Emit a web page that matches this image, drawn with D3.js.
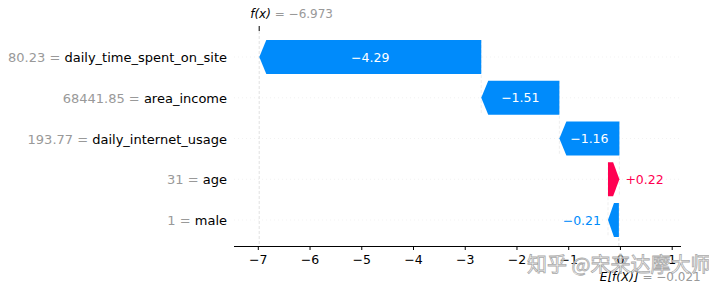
<!DOCTYPE html>
<html>
<head>
<meta charset="utf-8">
<script src="https://cdn.jsdelivr.net/npm/d3@7"></script>
<style>
  body { margin: 0; background: #fff; }
  svg { font-family: "DejaVu Sans", sans-serif; }
</style>
</head>
<body>
<svg id="chart"></svg>
<script>
// data, top row first
const features = ['daily_time_spent_on_site', 'area_income', 'daily_internet_usage', 'age', 'male'];
const featureValues = ['80.23', '68441.85', '193.77', '31', '1'];
const shapValues = [-4.29, -1.51, -1.16, 0.22, -0.21];
const baseValue = -0.021;
const fxValue = -6.973;
const xTicks = [-7, -6, -5, -4, -3, -2, -1, 0, 1];

const width = 709, height = 291;
const blue = '#008bfb', red = '#ff0051';

const svg = d3.select('#chart').attr('width', width).attr('height', height);

const x = d3.scaleLinear().domain([-7.46, 1.18]).range([234, 681]);
const y = d3.scaleLinear().domain([0, features.length - 1]).range([57, 220]);
const axisTop = 31, axisBottom = 246;
const barH = 34;

// cumulative positions, starting from base value at the bottom row
const bars = [];
let cur = baseValue;
for (let i = features.length - 1; i >= 0; i--) {
  const start = cur, end = cur + shapValues[i];
  bars[i] = { i, start, end, v: shapValues[i] };
  cur = end;
}

// faint row lines
svg.append('g').selectAll('line')
  .data(features)
  .enter().append('line')
  .attr('x1', x.range()[0]).attr('x2', x.range()[1])
  .attr('y1', (d, i) => y(i)).attr('y2', (d, i) => y(i))
  .attr('stroke', '#e4e4e4').attr('stroke-width', 0.5)
  .attr('stroke-dasharray', '1 3');

// f(x) line and base line
svg.append('line')
  .attr('x1', x(fxValue)).attr('x2', x(fxValue))
  .attr('y1', axisTop).attr('y2', axisBottom)
  .attr('stroke', '#cccccc').attr('stroke-width', 0.6).attr('stroke-dasharray', '3 2');
svg.append('line')
  .attr('x1', x(baseValue)).attr('x2', x(baseValue))
  .attr('y1', axisBottom - (axisBottom - axisTop) / features.length).attr('y2', axisBottom)
  .attr('stroke', '#cccccc').attr('stroke-width', 0.6).attr('stroke-dasharray', '3 2');

// connectors between consecutive bars
svg.append('g').selectAll('line')
  .data(bars.slice(0, -1))
  .enter().append('line')
  .attr('x1', d => x(d.start)).attr('x2', d => x(d.start))
  .attr('y1', d => y(d.i) - barH / 2).attr('y2', d => y(d.i + 1) + barH / 2)
  .attr('stroke', '#dddddd').attr('stroke-width', 0.5).attr('stroke-dasharray', '3 2');

// arrow shaped bars
function arrowPath(d) {
  const x0 = x(d.start), x1 = x(d.end);
  const w = Math.abs(x1 - x0);
  const dir = Math.sign(x1 - x0);
  const hl = Math.min(7, w * 0.55);
  const yc = y(d.i), t = yc - barH / 2, b = yc + barH / 2;
  const xb = x1 - dir * hl;
  return `M${x0},${t}L${xb},${t}L${x1},${yc}L${xb},${b}L${x0},${b}Z`;
}

svg.append('g').selectAll('path')
  .data(bars)
  .enter().append('path')
  .attr('d', arrowPath)
  .attr('fill', d => d.v > 0 ? red : blue);

// value labels
const fmt = v => (v > 0 ? '+' : '\u2212') + Math.abs(v).toFixed(2);
svg.append('g').selectAll('text')
  .data(bars)
  .enter().append('text')
  .each(function (d) {
    const w = Math.abs(x(d.end) - x(d.start));
    const t = d3.select(this)
      .attr('y', y(d.i) + 4.5)
      .attr('font-size', 12.5)
      .text(fmt(d.v));
    if (w > 45) {
      t.attr('x', (x(d.start) + x(d.end)) / 2).attr('text-anchor', 'middle').attr('fill', '#fff');
    } else if (d.v > 0) {
      t.attr('x', x(d.end) + 6).attr('text-anchor', 'start').attr('fill', red);
    } else {
      t.attr('x', x(d.end) - 7).attr('text-anchor', 'end').attr('fill', blue);
    }
  });

// feature labels
const labels = svg.append('g').selectAll('text')
  .data(features)
  .enter().append('text')
  .attr('x', 227)
  .attr('y', (d, i) => y(i) + 5)
  .attr('text-anchor', 'end')
  .attr('font-size', 13);
labels.append('tspan').attr('fill', '#999').text((d, i) => featureValues[i] + ' = ');
labels.append('tspan').attr('fill', '#000').text(d => d);

// bottom axis
const axis = svg.append('g')
  .attr('transform', `translate(0,${axisBottom})`)
  .call(d3.axisBottom(x).tickValues(xTicks).tickSize(4).tickPadding(5)
    .tickFormat(d => d < 0 ? '\u2212' + Math.abs(d) : d));
axis.select('.domain').attr('d', `M${x.range()[0]},0.5H${x.range()[1]}`).attr('stroke', '#000');
axis.selectAll('text').attr('font-size', 12.5).attr('fill', '#000').attr('font-family', '"DejaVu Sans", sans-serif');

// f(x) top tick and label
svg.append('line')
  .attr('x1', x(fxValue)).attr('x2', x(fxValue))
  .attr('y1', 26).attr('y2', axisTop)
  .attr('stroke', '#000').attr('stroke-width', 1);
const fxLabel = svg.append('text')
  .attr('x', x(fxValue) - 9).attr('y', 18)
  .attr('font-size', 12);
fxLabel.append('tspan').attr('font-style', 'italic').attr('fill', '#000').text('f(x)');
fxLabel.append('tspan').attr('fill', '#999').text(' = \u2212' + Math.abs(fxValue).toFixed(3));

// E[f(X)] label
const eLabel = svg.append('text')
  .attr('x', x(baseValue) - 19).attr('y', 281)
  .attr('font-size', 12);
eLabel.append('tspan').attr('font-style', 'italic').attr('fill', '#000').text('E[f(X)]');
eLabel.append('tspan').attr('fill', '#999').text(' = \u2212' + Math.abs(baseValue).toFixed(3));

// watermark
svg.append('text')
  .attr('x', 527).attr('y', 272)
  .attr('font-family', '"Noto Sans CJK SC", sans-serif')
  .attr('font-size', 20)
  .attr('fill', 'rgba(255,255,255,0.6)')
  .attr('stroke', '#aaa').attr('stroke-width', 0.8)
  .text('知乎 @宋来达摩大师');
</script>
</body>
</html>
